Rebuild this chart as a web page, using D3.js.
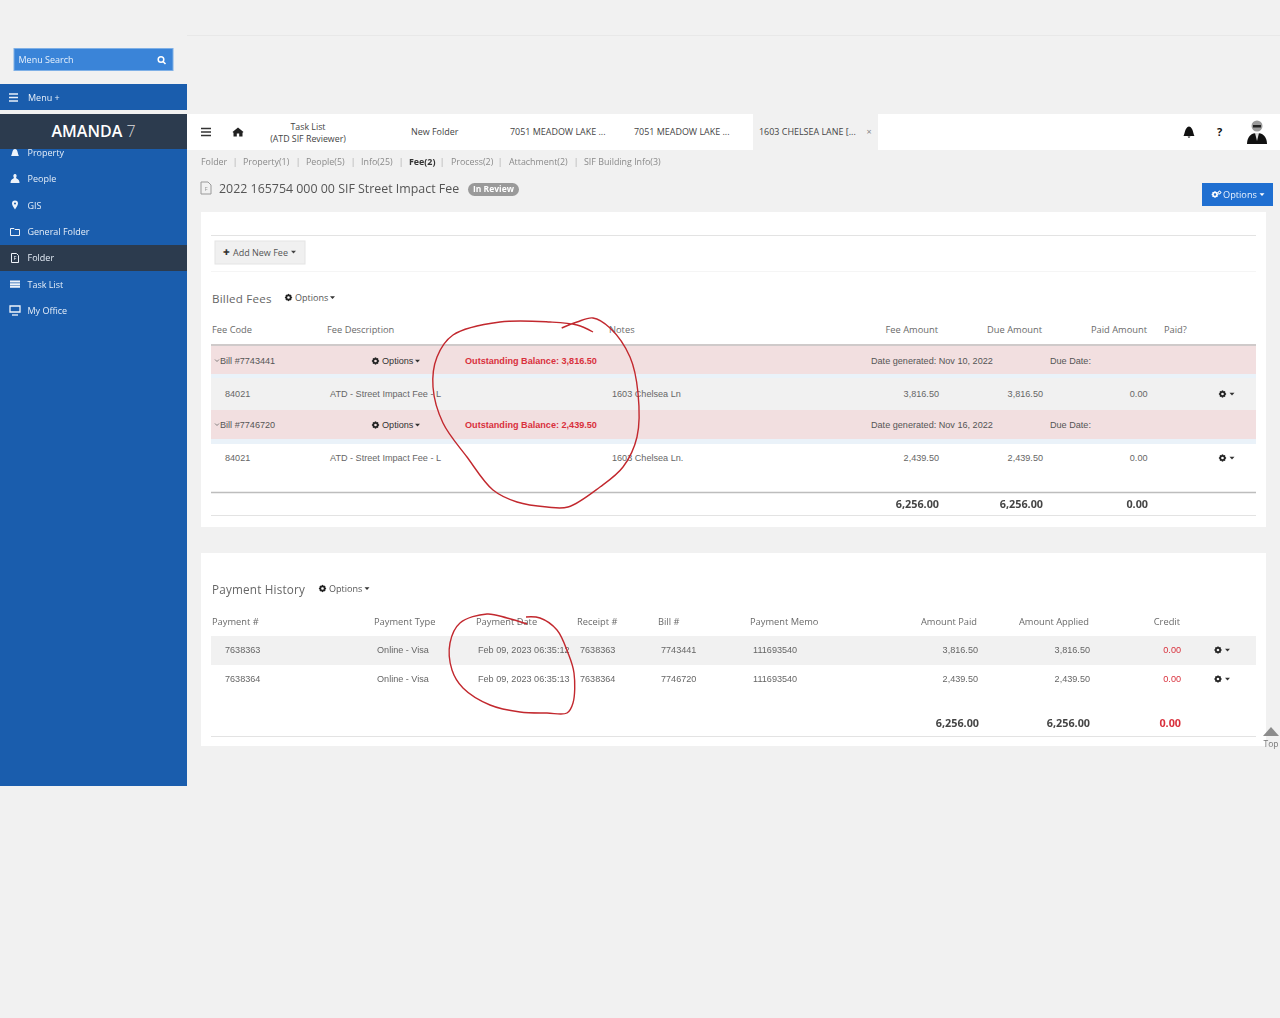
<!DOCTYPE html>
<html><head><meta charset="utf-8">
<script src="https://cdn.jsdelivr.net/npm/d3@7"></script>
<style>
html,body{margin:0;padding:0;background:#f1f1f1;overflow:hidden}
svg{display:block;filter:blur(.4px)}
text{font-family:"Open Sans",sans-serif;font-size:9px;fill:#555}
.ar{font-family:"Liberation Sans",Arial,sans-serif}
</style></head><body>
<svg id="c" width="1280" height="1018"></svg>
<script>
const sideItems=["Property","People","GIS","General Folder","Folder","Task List","My Office"];
const tabs=["New Folder","7051 MEADOW LAKE ...","7051 MEADOW LAKE ...","1603 CHELSEA LANE [..."];
const crumbs=["Folder","Property(1)","People(5)","Info(25)","Fee(2)","Process(2)","Attachment(2)","SIF Building Info(3)"];
const feeHeaders=["Fee Code","Fee Description","Notes","Fee Amount","Due Amount","Paid Amount","Paid?"];
const bills=["Bill #7743441","Bill #7746720"];
const balances=["3,816.50","2,439.50"];
const genDates=["Nov 10, 2022","Nov 16, 2022"];
const feeNotes=["1603 Chelsea Ln","1603 Chelsea Ln."];
const feeDesc=["ATD - Street Impact Fee - L","ATD - Street Impact Fee - L"];
const feeAmounts=["3,816.50","2,439.50"];
const feeTotals=["6,256.00","6,256.00","0.00"];
const payHeaders=["Payment #","Payment Type","Payment Date","Receipt #","Bill #","Payment Memo","Amount Paid","Amount Applied","Credit"];
const payNums=["7638363","7638364"];
const payDates=["Feb 09, 2023 06:35:12","Feb 09, 2023 06:35:13"];
const payBills=["7743441","7746720"];
const payMemo=["111693540","111693540"];
const payTotals=["6,256.00","6,256.00","0.00"];

const svg=d3.select("#c");
const R=(x,y,w,h,f,s)=>svg.append("rect").attr("x",x).attr("y",y).attr("width",w).attr("height",h).attr("fill",f).attr("stroke",s||"none");
const T=(x,y,t,o={})=>{const e=svg.append("text").attr("x",x).attr("y",y).attr("dy",".35em").text(t).attr("class",o.ar?"ar":null)
 .style("font-size",(o.s||9)+"px").style("fill",o.c||"#555").style("font-weight",o.b?"bold":"normal").attr("text-anchor",o.a||"start");
 if(o.ls)e.style("letter-spacing",o.ls+"px");return e;};
const L=(x1,y1,x2,y2,c,w)=>svg.append("line").attr("x1",x1).attr("y1",y1).attr("x2",x2).attr("y2",y2).attr("stroke",c).attr("stroke-width",w||1);
const P=(x,y,d,f,s,sw)=>svg.append("path").attr("transform",`translate(${x},${y})`).attr("d",d).attr("fill",f||"none").attr("stroke",s||"none").attr("stroke-width",sw||1);
const burger=(x,y,w,c)=>{[-3.5,0,3.5].forEach(d=>L(x,y+d,x+w,y+d,c,1.5));};
const caret=(x,y,c)=>P(x,y,"M-2.5,-1.3L2.5,-1.3L0,1.5Z",c||"#333");
const gear=(x,y,c,r)=>{r=r||3.2;svg.append("circle").attr("cx",x).attr("cy",y).attr("r",r*.72).attr("fill","none").attr("stroke",c).attr("stroke-width",r*.55);
 d3.range(8).forEach(i=>{const a=i*Math.PI/4;L(x+Math.cos(a)*r*.7,y+Math.sin(a)*r*.7,x+Math.cos(a)*r*1.2,y+Math.sin(a)*r*1.2,c,r*.5);});};

// page top
L(187,35.5,1280,35.5,"#e8e8e8",1);
R(14,48.5,159,22,"#3a84d8","#7fb0e6");
T(18.5,60,"Menu Search",{c:"#e6f0fc",s:9});
svg.append("circle").attr("cx",161).attr("cy",59.5).attr("r",2.8).attr("fill","none").attr("stroke","#fff").attr("stroke-width",1.5);
L(163,61.5,165.5,64,"#fff",1.6);
R(0,84,187,26,"#1a5dad");
burger(9,97.5,9,"#e8f0fa");
T(28,97.5,"Menu +",{c:"#e8f0fa",s:9});

// sidebar
R(0,149,187,637,"#1a5dad");
R(0,245,187,26,"#2c3b4e");
const sideY=d3.scalePoint().domain(d3.range(sideItems.length)).range([153,311]);
sideItems.forEach((t,i)=>{const y=sideY(i);T(27.5,y,t,{c:"#e6eef8",s:9});});
const wc="#eef3fa";
P(15,153,"M-4,3C-2.5,1-3,-4 0,-4C3,-4 2.5,1 4,3Z",wc);
P(15,179,"M-4.5,4C-4.5,0-2,0-1,-1C-2.5,-4 -1,-5 0,-5C1,-5 2.5,-4 1,-1C2,0 4.5,0 4.5,4Z",wc);
P(15,205,"M0,4.5C-1.5,2 -3,0 -3,-1.5A3,3 0 0 1 3,-1.5C3,0 1.5,2 0,4.5Z",wc);
svg.append("circle").attr("cx",15).attr("cy",203.5).attr("r",1).attr("fill","#1a5dad");
P(15,232,"M-4.5,-3.5H-1L0,-2.5H4.5V3.5H-4.5Z","none",wc,1);
P(15,258,"M-3.5,-4.5H1.5L3.5,-2.5V4.5H-3.5Z","none",wc,1);
T(15,258.5,"F",{a:"middle",c:wc,s:5.5});
P(15,284,"M-5,-3.5H5V-1.5H-5ZM-5,-.8H5V1.2H-5ZM-5,1.8H5V3.8H-5Z",wc);
P(15,310,"M-5,-4H5V2H-5Z","none",wc,1.3);L(12,315,18,315,wc,1.3);
R(0,114,187,35,"#2c3b4e");
svg.append("text").attr("x",93.5).attr("y",131).attr("dy",".36em").attr("text-anchor","middle").style("font-size","16px").style("fill","#fff")
 .html('<tspan style="font-weight:600;fill:#fff">AMANDA</tspan><tspan style="font-weight:300;fill:#ddd"> 7</tspan>');

// top bar
R(187,114,1093,36,"#fff");
R(753,114,125,36,"#f1f1f1");
burger(201,132,10,"#333");
P(238,132,"M-5.5,0L0,-4.5L5.5,0L4.5,.8V4.5H1.2V1.5H-1.2V4.5H-4.5V.8Z","#222");
T(308,127,"Task List",{a:"middle",c:"#444",s:8.8});
T(308,139,"(ATD SIF Reviewer)",{a:"middle",c:"#444",s:8.8});
const tabX=d3.scaleOrdinal().domain(d3.range(4)).range([411,510,634,759]);
tabs.forEach((t,i)=>T(tabX(i),132,t,{c:"#444",s:8.95}));
T(869,132,"×",{a:"middle",c:"#888",s:9});
P(1189,132,"M-5.5,4C-4,2-4.5,-4.5 0,-5.5C4.5,-4.5 4,2 5.5,4ZM-1.5,4.6H1.5L0,6Z","#111");
T(1219.5,132,"?",{a:"middle",c:"#111",s:11,b:true});
// avatar
svg.append("circle").attr("cx",1257).attr("cy",126).attr("r",5.5).attr("fill","#9a9a9a");
P(1257,126,"M-4,-1H4V1.5H-4Z","#222");
P(1257,144,"M-10,0C-10,-8 -5,-11 0,-11C5,-11 10,-8 10,0Z","#111");
P(1257,144,"M-2,-11L0,-3L2,-11Z","#ddd");

// breadcrumbs
const crumbX=[201,243,306,361,409,451,509,584],sepX=[235,298,353,401,442,500,576];
crumbs.forEach((t,i)=>T(crumbX[i],162,t,{c:i==4?"#333":"#8a8a8a",b:i==4,s:8.9}));
sepX.forEach(x=>T(x,162,"|",{c:"#aaa",s:8.5,a:"middle"}));
P(206,188,"M-5,-6H2L5,-3V6H-5Z","none","#999",1);
T(206,189,"F",{a:"middle",c:"#999",s:6});
T(219,188.5,"2022 165754 000 00 SIF Street Impact Fee",{c:"#555",s:12.4});
R(468,183,51,13,"#9a9a9a").attr("rx",6.5);
T(493.5,189.5,"In Review",{a:"middle",c:"#fff",b:true,s:8.5});
R(1202,183,71,23,"#1f6fd1");
gear(1215,194.5,"#fff",2.8);gear(1219.5,192.5,"#fff",1.6);
T(1223,194.5,"Options",{c:"#e8f1fd",s:9.2});
caret(1262,194.5,"#fff");

// panels
R(201,212,1065,315,"#fff");
R(201,553,1065,193,"#fff");
L(211,235.5,1256,235.5,"#e3e3e3");
L(211,271.5,1256,271.5,"#f5f5f5");
R(215,241,90,23,"#f0f0f0","#e4e4e4");
T(223,252.5,"✚",{c:"#333",s:8});
T(233,252.5,"Add New Fee",{c:"#555",s:9});
caret(293.5,252,"#444");
T(212,298.5,"Billed Fees",{c:"#666",s:11.6,ls:.2});
gear(288.5,297.5,"#222",3);
T(295,297.5,"Options",{c:"#555",s:9});
caret(332.5,297.5,"#333");

// fee table
const feeX=d3.scaleOrdinal().domain(feeHeaders).range([212,327,609,938,1042,1147,1164]);
feeHeaders.forEach(h=>{const end=/Amount/.test(h);T(feeX(h),330,h,{c:"#6a6a6a",s:9.3,a:end?"end":"start"});});
L(211,345,1256,345,"#cfcaca",2);
const billY=[346,410],billH=[28,29],stripH=[4,5],rowY=[378,444],rowH=[32,32],rowFill=["#f1f1f1","#fff"];
const ARS=9.1;
bills.forEach((b,i)=>{
 R(211,billY[i],1045,billH[i],"#f2dfe0");
 R(211,billY[i]+billH[i],1045,stripH[i],"#eaf2f9");
 R(211,rowY[i],1045,rowH[i],rowFill[i]);
 const cy=billY[i]+14.5,ry=rowY[i]+(i?14:16);
 P(217,cy,"M-2,-1L0,1L2,-1","none","#666",.8);
 T(220,cy,b,{ar:1,s:ARS,c:"#555"});
 gear(375.5,cy+.5,"#222",3);
 T(382,cy+.5,"Options",{ar:1,s:ARS,c:"#333"});
 caret(417.5,cy+.5,"#333");
 T(465,cy,"Outstanding Balance: "+balances[i],{ar:1,s:ARS,b:true,c:"#d9303c"});
 T(871,cy,"Date generated: "+genDates[i],{ar:1,s:ARS,c:"#555"});
 T(1050,cy,"Due Date:",{ar:1,s:ARS,c:"#555"});
 T(225,ry,"84021",{ar:1,s:ARS,c:"#666"});
 T(330,ry,feeDesc[i],{ar:1,s:ARS,c:"#666"});
 T(612,ry,feeNotes[i],{ar:1,s:ARS,c:"#666"});
 T(939,ry,feeAmounts[i],{ar:1,s:ARS,c:"#666",a:"end"});
 T(1043,ry,feeAmounts[i],{ar:1,s:ARS,c:"#666",a:"end"});
 T(1147.5,ry,"0.00",{ar:1,s:ARS,c:"#666",a:"end"});
 gear(1222.5,ry,"#222",3);caret(1232,ry,"#333");
});
L(211,492.5,1256,492.5,"#bdbdbd",1.6);
const totX=[939,1043,1148];
feeTotals.forEach((t,i)=>T(totX[i],504,t,{a:"end",b:true,s:10.8,c:"#444"}));
L(211,515.5,1256,515.5,"#e3e3e3");

// payment table
T(212,589.5,"Payment History",{c:"#666",s:11.7,ls:.2});
gear(322.5,588.5,"#222",3);
T(329,588.5,"Options",{c:"#555",s:9});
caret(367,588.5,"#333");
const payX=d3.scaleOrdinal().domain(payHeaders).range([212,374,476,577,658,750,977,1089,1180]);
payHeaders.forEach((h,i)=>T(payX(h),622,h,{c:"#6a6a6a",s:9.3,a:i>=6?"end":"start"}));
R(211,636,1045,29,"#f1f1f1");
payNums.forEach((n,i)=>{
 const y=650+i*29,o={ar:1,s:ARS,c:"#666"};
 T(225,y,n,o);T(377,y,"Online - Visa",o);T(478,y,payDates[i],o);T(580,y,n,o);T(661,y,payBills[i],o);T(753,y,payMemo[i],o);
 T(978,y,feeAmounts[i],{...o,a:"end"});T(1090,y,feeAmounts[i],{...o,a:"end"});T(1181,y,"0.00",{...o,a:"end",c:"#d9303c"});
 gear(1218,y,"#222",3);caret(1227.5,y,"#333");
});
const payTotX=[979,1090,1181];
payTotals.forEach((t,i)=>T(payTotX[i],723,t,{a:"end",b:true,s:10.8,c:i==2?"#d9303c":"#444"}));
L(211,736.5,1256,736.5,"#e3e3e3");

// top link
P(1271,731,"M-8,5L0,-4L8,5Z","#8c8c8c");
T(1271,744.5,"Top",{a:"middle",c:"#777",s:8.5});

// hand drawn ink
const ink1=[[561.7,328],[577,322],[593,318],[610,328],[630,357],[638,393],[637,437],[623,467],[600,487],[568,507],[547,507],[517,502],[493,490],[467,457],[443,423],[433,387],[437,357],[453,335],[500,322],[550,322],[577,325],[593,332]];
const ink2=[[526,617],[540,618],[557,630],[568,653],[574,673],[573,703],[567,713],[547,713],[520,712],[490,705],[463,688],[452,670],[450,643],[460,623],[487,614],[507,618],[527,624]];
const line=d3.line().curve(d3.curveCatmullRom.alpha(.5));
[ink1,ink2].forEach(p=>svg.append("path").attr("d",line(p)).attr("fill","none").attr("stroke","#c2282e").attr("stroke-width",1.4));
</script></body></html>
